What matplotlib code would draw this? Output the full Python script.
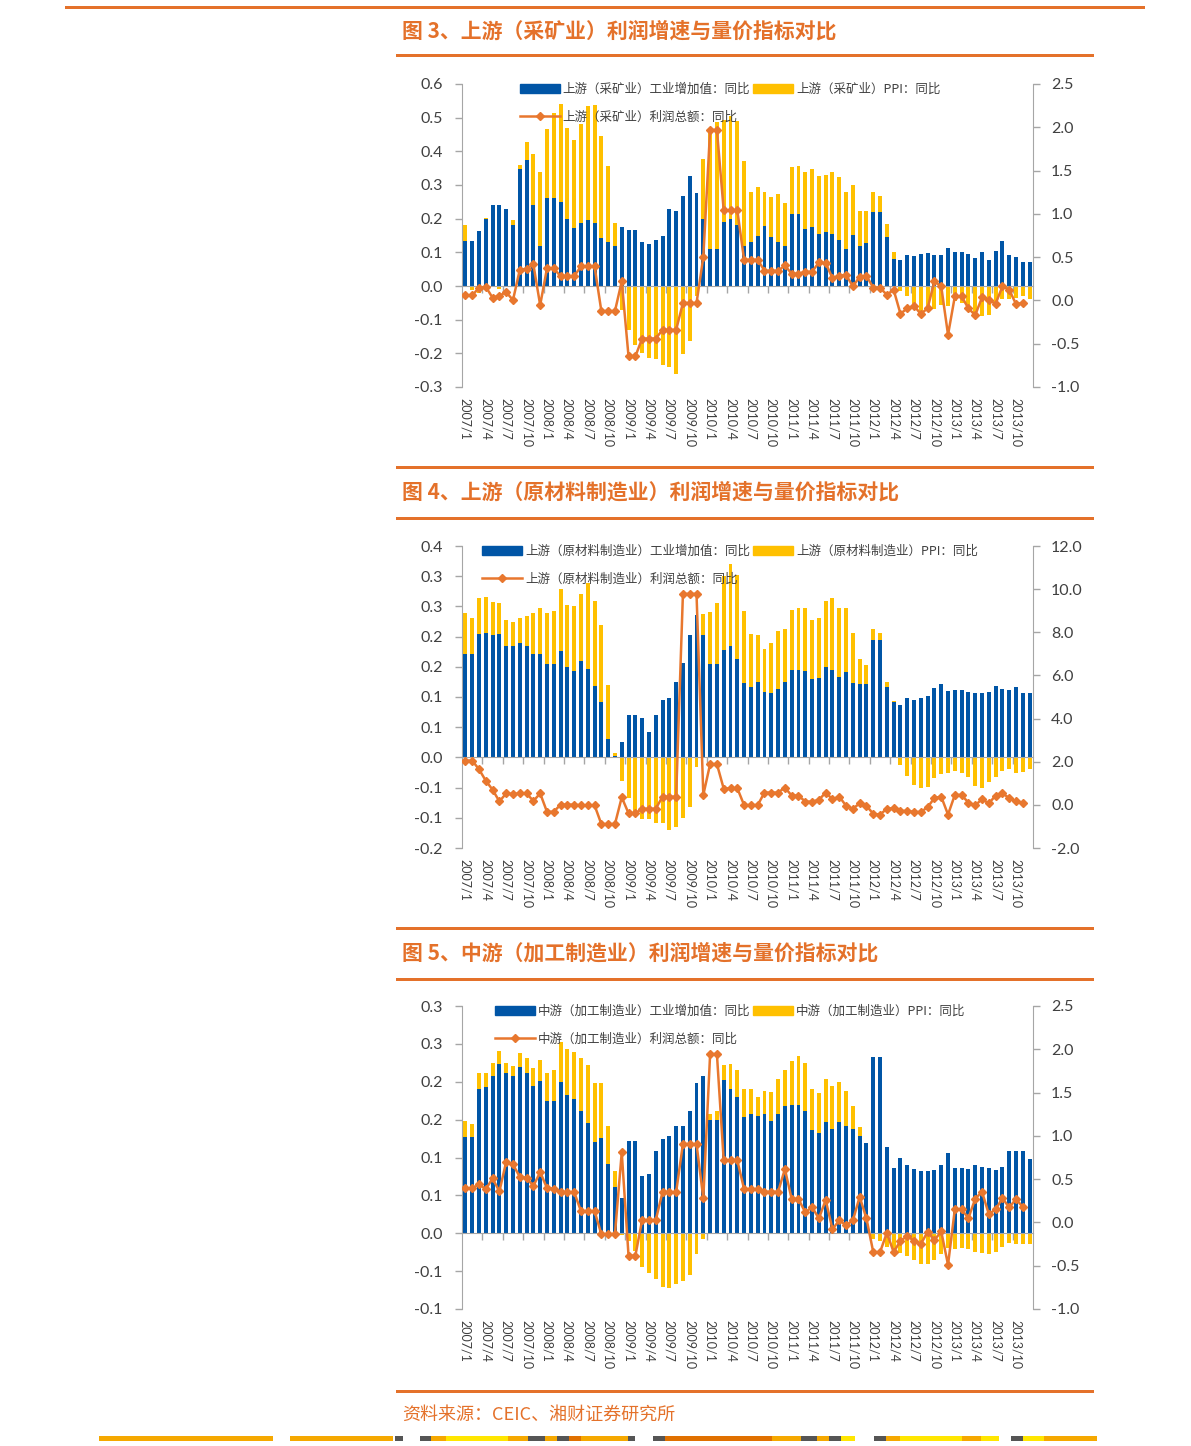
import numpy as np
import matplotlib
matplotlib.use("Agg")
import matplotlib.pyplot as plt
import matplotlib.transforms as mtransforms
from matplotlib.patches import Patch, Rectangle
from matplotlib.lines import Line2D

W, H = 1191, 1446
CJK = ["Noto Sans CJK SC", "DejaVu Sans"]
plt.rcParams["font.family"] = ["Lato", "Noto Sans CJK SC", "DejaVu Sans"]

BLUE = "#0055A6"
YELLOW = "#FFC000"
LINE = "#E8772E"
HEAD = "#E4712A"
SPINE = "#A6A6A6"
TXT = "#404040"
nan = np.nan

date_labels = ["2007/1", "2007/4", "2007/7", "2007/10", "2008/1", "2008/4", "2008/7",
               "2008/10", "2009/1", "2009/4", "2009/7", "2009/10", "2010/1", "2010/4",
               "2010/7", "2010/10", "2011/1", "2011/4", "2011/7", "2011/10", "2012/1",
               "2012/4", "2012/7", "2012/10", "2013/1", "2013/4", "2013/7", "2013/10"]

# 图3 上游（采矿业）
mining_iva = [0.135, 0.135, 0.163, 0.2, 0.24, 0.24, 0.23, 0.182, 0.348, 0.373,
              0.242, 0.12, 0.262, 0.262, 0.25, 0.198, 0.173, 0.187, 0.195, 0.188,
              0.144, 0.132, 0.12, 0.175, 0.167, 0.167, 0.131, 0.126, 0.137, 0.149,
              0.229, 0.224, 0.267, 0.327, 0.275, 0.2, 0.11, 0.11, 0.19, 0.2,
              0.18, 0.118, 0.13, 0.148, 0.179, 0.145, 0.13, 0.12, 0.215, 0.215,
              0.17, 0.176, 0.155, 0.161, 0.155, 0.138, 0.11, 0.15, 0.118, 0.129,
              0.22, 0.22, 0.147, 0.081, 0.078, 0.092, 0.089, 0.095, 0.099, 0.093,
              0.093, 0.113, 0.1, 0.1, 0.096, 0.084, 0.1, 0.078, 0.104, 0.135,
              0.093, 0.087, 0.07, 0.072]
mining_ppi = [0.18, -0.012, -0.022, 0.203, 0.242, -0.008, -0.004, 0.195, 0.36, 0.427,
              0.393, 0.34, 0.467, 0.515, 0.541, 0.47, 0.433, 0.482, 0.536, 0.538,
              0.445, 0.357, 0.187, -0.07, -0.132, -0.175, -0.2, -0.215, -0.218, -0.236,
              -0.24, -0.26, -0.203, -0.164, -0.03, 0.378, 0.46, 0.486, 0.494, 0.504,
              0.489, 0.372, 0.28, 0.295, 0.28, 0.264, 0.274, 0.247, 0.354, 0.357,
              0.338, 0.349, 0.327, 0.33, 0.338, 0.325, 0.28, 0.3, 0.224, 0.224,
              0.28, 0.267, 0.184, 0.1, -0.015, -0.03, -0.06, -0.075, -0.075, -0.067,
              -0.055, -0.06, -0.045, -0.05, -0.06, -0.085, -0.09, -0.085, -0.05, -0.04,
              -0.04, -0.035, -0.03, -0.04]
mining_profit = [0.058, 0.058, 0.146, 0.158, 0.03, 0.054, 0.096, 0.004, 0.354, 0.366,
                 0.416, -0.054, 0.37, 0.37, 0.28, 0.28, 0.28, 0.393, 0.393, 0.393,
                 -0.123, -0.123, -0.123, 0.22, -0.647, -0.647, -0.44, -0.44, -0.44, -0.34,
                 -0.34, -0.34, -0.03, -0.03, -0.03, 0.5, 1.97, 1.97, 1.04, 1.04,
                 1.04, 0.47, 0.47, 0.47, 0.343, 0.343, 0.343, 0.404, 0.308, 0.308,
                 0.331, 0.331, 0.439, 0.431, 0.258, 0.285, 0.296, 0.162, 0.273, 0.285,
                 0.146, 0.146, 0.065, 0.123, -0.154, -0.092, -0.062, -0.158, -0.089, 0.22,
                 0.162, -0.397, 0.046, 0.046, -0.092, -0.17, 0.035, 0.008, -0.039, 0.162,
                 0.123, -0.042, -0.031, nan]

# 图4 上游（原材料制造业）
raw_iva = [0.172, 0.172, 0.205, 0.206, 0.202, 0.205, 0.185, 0.185, 0.19, 0.185,
           0.171, 0.171, 0.154, 0.154, 0.176, 0.15, 0.143, 0.16, 0.146, 0.118,
           0.091, 0.031, 0.003, 0.026, 0.07, 0.07, 0.066, 0.042, 0.07, 0.095,
           0.098, 0.125, 0.157, 0.203, 0.236, 0.203, 0.154, 0.154, 0.178, 0.185,
           0.163, 0.124, 0.117, 0.125, 0.108, 0.106, 0.114, 0.125, 0.144, 0.144,
           0.143, 0.13, 0.131, 0.149, 0.144, 0.133, 0.141, 0.124, 0.122, 0.122,
           0.195, 0.195, 0.117, 0.091, 0.086, 0.099, 0.095, 0.099, 0.101, 0.115,
           0.121, 0.11, 0.111, 0.111, 0.108, 0.106, 0.106, 0.108, 0.119, 0.114,
           0.111, 0.117, 0.106, 0.106]
raw_ppi = [0.239, 0.231, 0.264, 0.266, 0.258, 0.255, 0.228, 0.225, 0.231, 0.234,
           0.239, 0.248, 0.239, 0.242, 0.279, 0.253, 0.251, 0.271, 0.289, 0.259,
           0.219, 0.12, 0.008, -0.039, -0.068, -0.09, -0.102, -0.102, -0.108, -0.109,
           -0.12, -0.115, -0.1, -0.082, -0.016, 0.238, 0.241, 0.255, 0.3, 0.321,
           0.302, 0.242, 0.205, 0.203, 0.179, 0.19, 0.21, 0.213, 0.244, 0.248,
           0.247, 0.228, 0.23, 0.259, 0.264, 0.248, 0.247, 0.206, 0.163, 0.153,
           0.212, 0.206, 0.125, 0.093, -0.012, -0.03, -0.045, -0.05, -0.049, -0.034,
           -0.028, -0.025, -0.022, -0.026, -0.032, -0.048, -0.05, -0.041, -0.032, -0.022,
           -0.02, -0.026, -0.024, -0.019]
raw_profit = [2.05, 2.05, 1.65, 1.12, 0.70, 0.16, 0.53, 0.50, 0.53, 0.53,
              0.18, 0.53, -0.32, -0.32, 0.01, 0.01, 0.01, -0.02, -0.02, -0.02,
              -0.89, -0.89, -0.89, 0.35, -0.39, -0.39, -0.18, -0.18, -0.18, 0.38,
              0.38, 0.38, 9.78, 9.78, 9.78, 0.46, 1.89, 1.89, 0.75, 0.77,
              0.77, -0.01, -0.01, -0.01, 0.57, 0.57, 0.57, 0.8, 0.43, 0.43,
              0.15, 0.15, 0.23, 0.57, 0.26, 0.38, -0.04, -0.18, 0.07, -0.04,
              -0.42, -0.45, -0.18, -0.15, -0.28, -0.28, -0.33, -0.33, -0.11, 0.32,
              0.38, -0.45, 0.46, 0.46, 0.1, -0.02, 0.26, 0.07, 0.43, 0.53,
              0.32, 0.16, 0.1, nan]

# 图5 中游（加工制造业）
proc_iva = [0.127, 0.127, 0.191, 0.193, 0.207, 0.223, 0.211, 0.207, 0.219, 0.212,
            0.195, 0.201, 0.175, 0.175, 0.2, 0.183, 0.177, 0.161, 0.145, 0.121,
            0.126, 0.092, 0.061, 0.047, 0.122, 0.122, 0.076, 0.078, 0.109, 0.124,
            0.128, 0.142, 0.142, 0.161, 0.199, 0.208, 0.149, 0.149, 0.202, 0.191,
            0.18, 0.154, 0.157, 0.155, 0.157, 0.148, 0.157, 0.168, 0.169, 0.169,
            0.162, 0.136, 0.132, 0.147, 0.137, 0.147, 0.142, 0.137, 0.129, 0.119,
            0.233, 0.233, 0.114, 0.086, 0.1, 0.09, 0.085, 0.082, 0.082, 0.084,
            0.09, 0.106, 0.086, 0.086, 0.085, 0.09, 0.088, 0.086, 0.084, 0.088,
            0.108, 0.108, 0.108, 0.098]
proc_ppi = [0.148, 0.144, 0.211, 0.212, 0.225, 0.24, 0.225, 0.221, 0.238, 0.232,
            0.218, 0.229, 0.212, 0.215, 0.253, 0.243, 0.239, 0.231, 0.222, 0.199,
            0.199, 0.142, 0.082, -0.002, -0.01, -0.024, -0.044, -0.053, -0.061, -0.071,
            -0.072, -0.067, -0.063, -0.055, -0.028, -0.007, 0.157, 0.162, 0.222, 0.224,
            0.216, 0.19, 0.19, 0.18, 0.188, 0.186, 0.204, 0.216, 0.227, 0.234,
            0.225, 0.19, 0.185, 0.203, 0.195, 0.2, 0.188, 0.168, 0.14, 0.0,
            -0.007, -0.01, -0.018, -0.022, -0.026, -0.03, -0.035, -0.04, -0.041, -0.035,
            -0.028, -0.02, -0.021, -0.019, -0.021, -0.025, -0.026, -0.027, -0.025, -0.018,
            -0.013, -0.014, -0.014, -0.014]
proc_profit = [0.393, 0.393, 0.439, 0.385, 0.508, 0.358, 0.7, 0.67, 0.527, 0.516,
               0.42, 0.581, 0.397, 0.389, 0.35, 0.35, 0.35, 0.131, 0.131, 0.131,
               -0.135, -0.135, -0.135, 0.809, -0.385, -0.385, 0.027, 0.027, 0.027, 0.35,
               0.35, 0.35, 0.905, 0.905, 0.905, 0.281, 1.945, 1.945, 0.716, 0.716,
               0.716, 0.385, 0.385, 0.385, 0.354, 0.354, 0.354, 0.616, 0.27, 0.27,
               0.116, 0.177, 0.046, 0.258, -0.077, 0.023, -0.031, 0.023, 0.296, 0.046,
               -0.343, -0.343, -0.119, -0.343, -0.212, -0.158, -0.212, -0.25, -0.108, -0.204,
               -0.104, -0.489, 0.15, 0.15, 0.05, 0.273, 0.354, 0.096, 0.15, 0.281,
               0.173, 0.27, 0.177, nan]

titles = ["图 3、上游（采矿业）利润增速与量价指标对比",
          "图 4、上游（原材料制造业）利润增速与量价指标对比",
          "图 5、中游（加工制造业）利润增速与量价指标对比"]
legend_names = [
    ["上游（采矿业）工业增加值：同比", "上游（采矿业）PPI：同比", "上游（采矿业）利润总额：同比"],
    ["上游（原材料制造业）工业增加值：同比", "上游（原材料制造业）PPI：同比", "上游（原材料制造业）利润总额：同比"],
    ["中游（加工制造业）工业增加值：同比", "中游（加工制造业）PPI：同比", "中游（加工制造业）利润总额：同比"],
]
source = "资料来源：CEIC、湘财证券研究所"

left_ticks_1 = [-0.3, -0.2, -0.1, 0.0, 0.1, 0.2, 0.3, 0.4, 0.5, 0.6]
left_labels_1 = ["-0.3", "-0.2", "-0.1", "0.0", "0.1", "0.2", "0.3", "0.4", "0.5", "0.6"]
left_ticks_2 = [-0.15, -0.10, -0.05, 0.0, 0.05, 0.10, 0.15, 0.20, 0.25, 0.30, 0.35]
left_labels_2 = ["-0.2", "-0.1", "-0.1", "0.0", "0.1", "0.1", "0.2", "0.2", "0.3", "0.3", "0.4"]
left_ticks_3 = [-0.10, -0.05, 0.0, 0.05, 0.10, 0.15, 0.20, 0.25, 0.30]
left_labels_3 = ["-0.1", "-0.1", "0.0", "0.1", "0.1", "0.2", "0.2", "0.3", "0.3"]
right_ticks_13 = [-1.0, -0.5, 0.0, 0.5, 1.0, 1.5, 2.0, 2.5]
right_labels_13 = ["-1.0", "-0.5", "0.0", "0.5", "1.0", "1.5", "2.0", "2.5"]
right_ticks_2 = [-2.0, 0.0, 2.0, 4.0, 6.0, 8.0, 10.0, 12.0]
right_labels_2 = ["-2.0", "0.0", "2.0", "4.0", "6.0", "8.0", "10.0", "12.0"]

fig = plt.figure(figsize=(W / 100, H / 100), dpi=100)


def hline(y, x0, x1, lw_px=3):
    fig.add_artist(Line2D([x0 / W, x1 / W], [1 - y / H, 1 - y / H],
                          transform=fig.transFigure, color=HEAD, lw=lw_px * 0.72))


def draw_panel(top, bottom, iva, ppi, profit, names, lt, ll, rt, rl, leg_y):
    left, right = 462, 1033
    ax = fig.add_axes([left / W, 1 - bottom / H, (right - left) / W, (bottom - top) / H])
    x = np.arange(len(iva))
    ax.bar(x, ppi, width=0.58, color=YELLOW, zorder=2)
    ax.bar(x, iva, width=0.58, color=BLUE, zorder=3)
    ax.set_xlim(-0.5, len(iva) - 0.5)
    ax.set_ylim(lt[0], lt[-1])
    ax.set_yticks(lt, ll)
    for s in ["top", "right"]:
        ax.spines[s].set_visible(False)
    ax.spines["left"].set_color(SPINE)
    ax.spines["bottom"].set_color(SPINE)
    ax.spines["bottom"].set_position(("data", 0))
    ax.spines["bottom"].set_zorder(4)
    ax.set_xticks(np.arange(2.5, len(iva) - 1, 3))
    ax.tick_params(axis="x", length=5, width=1, color=SPINE, labelbottom=False)
    ax.tick_params(axis="y", length=5, width=1, color=SPINE, pad=9,
                   labelsize=11.5, labelcolor=TXT)

    trans = mtransforms.blended_transform_factory(ax.transData, ax.transAxes)
    for i, lab in zip(range(0, len(iva), 3), date_labels):
        ax.text(i, -11 / (bottom - top), lab, transform=trans, rotation=-90,
                ha="center", va="top", fontsize=9, color=TXT)

    ax2 = ax.twinx()
    ax2.plot(x, profit, color=LINE, lw=1.8, marker="D", ms=4.5, zorder=5)
    ax2.set_ylim(rt[0], rt[-1])
    ax2.set_yticks(rt, rl)
    for s in ["top", "left", "bottom"]:
        ax2.spines[s].set_visible(False)
    ax2.spines["right"].set_color(SPINE)
    ax2.tick_params(axis="y", length=5, width=1, color=SPINE, pad=8,
                    labelsize=11.5, labelcolor=TXT)

    handles = [Patch(color=BLUE), Line2D([], [], color=LINE, lw=1.8, marker="D", ms=4),
               Patch(color=YELLOW)]
    fig.legend(handles, [names[0], names[2], names[1]], loc="upper center",
               bbox_to_anchor=(730 / W, 1 - leg_y / H), ncol=2, frameon=False,
               prop={"family": CJK, "size": 9}, labelcolor=TXT, handlelength=3.2,
               handletextpad=0.25, columnspacing=0.2, labelspacing=1.15,
               borderpad=0, borderaxespad=0)


def main():
    hline(6.5, 66, 1143)
    panels = [
        (31, 55, 84, 387, mining_iva, mining_ppi, mining_profit,
         left_ticks_1, left_labels_1, right_ticks_13, right_labels_13),
        (492, 518, 546, 848, raw_iva, raw_ppi, raw_profit,
         left_ticks_2, left_labels_2, right_ticks_2, right_labels_2),
        (953, 979, 1006, 1309, proc_iva, proc_ppi, proc_profit,
         left_ticks_3, left_labels_3, right_ticks_13, right_labels_13),
    ]
    for k, (ty, ly, top, bottom, iva, ppi, profit, lt, ll, rt, rl) in enumerate(panels):
        if k > 0:
            hline(ty - 25, 397, 1092)
        fig.text(402 / W, 1 - ty / H, titles[k], family=CJK, fontsize=15,
                 fontweight="bold", color=HEAD, va="center", ha="left")
        hline(ly, 397, 1092)
        draw_panel(top, bottom, iva, ppi, profit, legend_names[k], lt, ll, rt, rl, top - 1)

    hline(1391, 397, 1092)
    fig.text(402 / W, 1 - 1415 / H, source, family=CJK, fontsize=13,
             color=HEAD, va="center", ha="left")

    # decorative stripe at the bottom of the page
    O, Y, D, G = "#F5A800", "#FFE600", "#E07000", "#555555"
    stripe = [(99, 273, O), (290, 393, O), (395, 403, G), (420, 431, G), (431, 446, O),
              (446, 508, Y), (508, 528, O), (528, 545, G), (545, 557, O), (557, 569, G),
              (569, 581, D), (581, 628, O), (628, 635, G), (653, 665, G), (665, 772, D),
              (772, 801, O), (801, 817, G), (817, 829, O), (829, 841, G), (841, 855, Y),
              (874, 886, G), (886, 900, O), (900, 962, Y), (962, 981, O), (981, 999, Y),
              (1011, 1023, G), (1023, 1044, Y), (1044, 1097, O)]
    for x0, x1, c in stripe:
        fig.add_artist(Rectangle((x0 / W, 1 - 1441 / H), (x1 - x0) / W, 5 / H,
                                 transform=fig.transFigure, color=c, lw=0))

    fig.savefig("out.png", dpi=100)
    plt.close(fig)


if __name__ == "__main__":
    main()
